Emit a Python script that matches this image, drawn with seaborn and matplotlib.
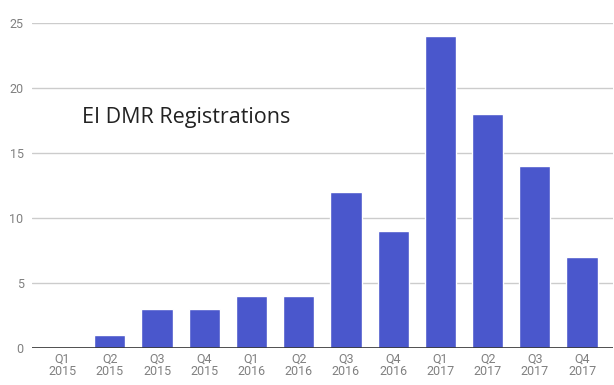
import numpy as np
import pandas as pd
import matplotlib
matplotlib.use('Agg')
import matplotlib.pyplot as plt
import seaborn as sns

# Data
quarters = ['Q1\n2015', 'Q2\n2015', 'Q3\n2015', 'Q4\n2015',
            'Q1\n2016', 'Q2\n2016', 'Q3\n2016', 'Q4\n2016',
            'Q1\n2017', 'Q2\n2017', 'Q3\n2017', 'Q4\n2017']
registrations = [0, 1, 3, 3, 4, 4, 12, 9, 24, 18, 14, 7]
y_ticks = [0, 5, 10, 15, 20, 25]

df = pd.DataFrame({'Quarter': quarters, 'Registrations': registrations})

sns.set_theme(style='white')
plt.rcParams['font.family'] = ['Roboto', 'DejaVu Sans']

fig = plt.figure(figsize=(6.14, 3.85), dpi=100)
ax = fig.add_axes([0.052, 0.096, 0.946, 0.844])

sns.barplot(data=df, x='Quarter', y='Registrations', color='#4a57cc',
            saturation=1, width=0.66, ax=ax, zorder=3)

ax.set_xlim(-0.65, 11.65)
ax.set_ylim(0, 25)
ax.set_yticks(y_ticks)
ax.grid(axis='y', color='#cccccc', linewidth=1, zorder=0)
ax.axhline(0, color='#333333', linewidth=1.2, zorder=4)
for s in ax.spines.values():
    s.set_visible(False)
ax.tick_params(axis='both', length=0, colors='#808080', labelsize=9, pad=6)
ax.tick_params(axis='x', pad=3)
for lab in ax.get_xticklabels():
    lab.set_linespacing(0.95)
ax.set_xlabel('')
ax.set_ylabel('')

ax.text(0.133, 0.695, 'EI DMR Registrations', transform=fig.transFigure,
        fontsize=15.5, color='#222222', family=['Open Sans', 'DejaVu Sans'],
        va='center', ha='left')

fig.savefig('out.png', dpi=100)
